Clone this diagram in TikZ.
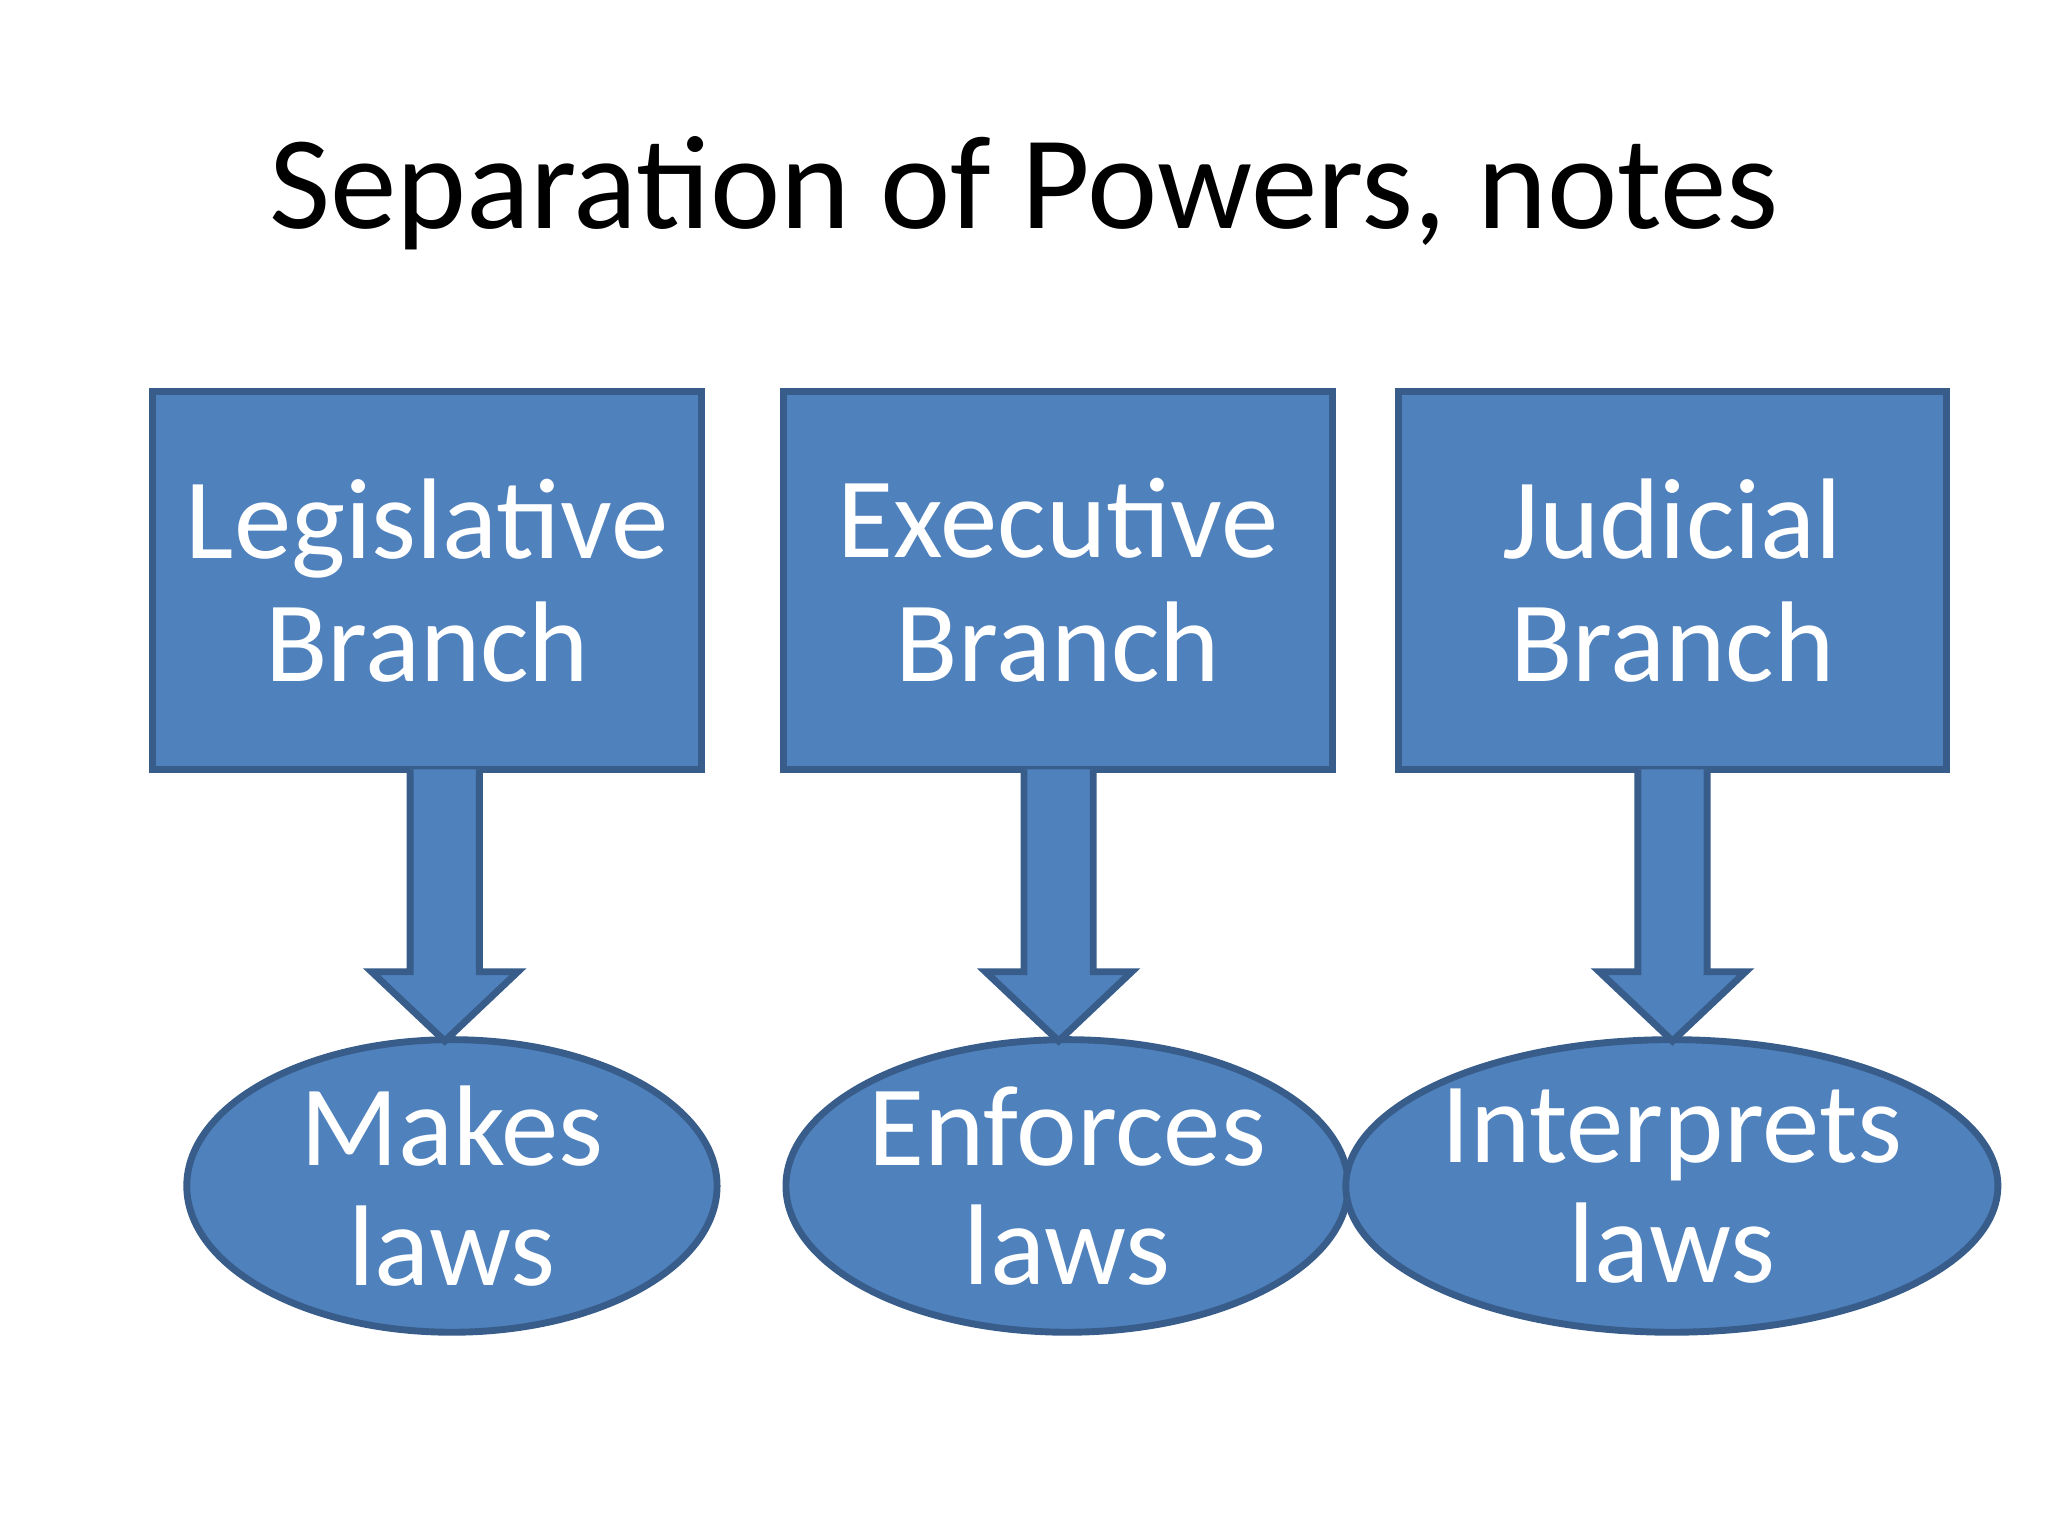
\documentclass[tikz,border=0pt]{standalone}
\usepackage{fontspec}
\setmainfont{Carlito}
\usetikzlibrary{shapes.geometric}
\definecolor{fillb}{HTML}{4F81BD}
\definecolor{edgeb}{HTML}{385D8A}
\begin{document}
\begin{tikzpicture}[y=-1cm,
  box/.style={draw=edgeb,fill=fillb,line width=1.5pt,minimum width=4.2cm,minimum height=2.89cm,text=white,font=\fontsize{25}{27}\selectfont,align=center,inner sep=0},
  ell/.style={ellipse,draw=edgeb,fill=fillb,line width=1.5pt,minimum height=2.24cm,text=white,font=\fontsize{25}{26}\selectfont,align=center,inner sep=0},
  barrow/.style={draw=edgeb,fill=fillb,line width=1.5pt,line join=miter}]
\useasboundingbox (0,0) rectangle (15.68,11.76);
\node[font=\fontsize{29}{30}\selectfont] (title) at (7.84,1.48) {Separation of Powers, notes};
\node[box] (b1) at (3.27,4.445) {Legislative\\Branch};
\node[box] (b2) at (8.10,4.445) {Executive\\Branch};
\node[box] (b3) at (12.805,4.445) {Judicial\\Branch};
\node[ell,minimum width=4.06cm] (e1) at (3.46,9.08) {Makes\\laws};
\node[ell,minimum width=4.06cm] (e2) at (8.17,9.08) {Enforces\\laws};
\node[ell,minimum width=4.46cm] (e3) at (12.80,9.08) {Interprets\\laws};
\foreach \x/\b/\e in {3.405/b1/e1, 8.105/b2/e2, 12.805/b3/e3}{
  \draw[barrow] (\x-0.265,5.89) -- (\x-0.265,7.44) -- (\x-0.56,7.44) -- (\x,7.97) -- (\x+0.56,7.44) -- (\x+0.265,7.44) -- (\x+0.265,5.89);
}
\end{tikzpicture}
\end{document}
